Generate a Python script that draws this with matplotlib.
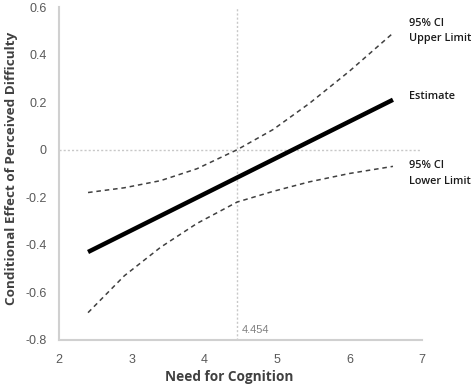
import matplotlib
matplotlib.use("Agg")
import matplotlib.pyplot as plt

# Data
est_x = [2.4, 6.6]
est_y = [-0.43, 0.21]
ci_x = [2.4, 2.9, 3.4, 3.9, 4.454, 4.95, 5.45, 6.0, 6.6]
upper_y = [-0.18, -0.16, -0.13, -0.08, 0.0, 0.085, 0.195, 0.33, 0.49]
lower_y = [-0.685, -0.53, -0.41, -0.31, -0.22, -0.175, -0.135, -0.10, -0.07]
jn_point = 4.454
x_ticks = [2, 3, 4, 5, 6, 7]
y_ticks = [-0.8, -0.6, -0.4, -0.2, 0, 0.2, 0.4, 0.6]
y_tick_labels = ["-0.8", "-0.6", "-0.4", "-0.2", "0", "0.2", "0.4", "0.6"]
right_labels = ["95% CI\nUpper Limit", "Estimate", "95% CI\nLower Limit"]
right_label_y = [0.50, 0.223, -0.10]

fig = plt.figure(figsize=(4.74, 3.88), dpi=100)
ax = fig.add_axes([59/474, 1-340/388, (422-59)/474, (340-7)/388])

ax.set_xlim(2, 7)
ax.set_ylim(-0.8, 0.6)

ax.axhline(0, color="#c8c8c8", lw=1, ls=(0, (1.5, 1.5)), zorder=1)
ax.axvline(jn_point, color="#c8c8c8", lw=1, ls=(0, (1.5, 1.5)), zorder=1)

ax.plot(ci_x, upper_y, color="#404040", lw=1.1, ls=(0, (3, 2.5)), zorder=2)
ax.plot(ci_x, lower_y, color="#404040", lw=1.1, ls=(0, (3, 2.5)), zorder=2)
ax.plot(est_x, est_y, color="black", lw=3.2, solid_capstyle="butt", zorder=3)

ax.text(jn_point + 0.06, -0.77, f"{jn_point:.3f}", color="#808080",
        fontsize=8, family="Liberation Sans", ha="left", va="baseline")

for lab, yy in zip(right_labels, right_label_y):
    ax.text(0.965, yy, lab, transform=ax.get_yaxis_transform(),
            fontsize=7.8, family="Open Sans", fontweight="semibold", color="#1a1a1a",
            ha="left", va="center", linespacing=1.55, clip_on=False)

for s in ["top", "right"]:
    ax.spines[s].set_visible(False)
for s in ["left", "bottom"]:
    ax.spines[s].set_color("#d0d0d0")
    ax.spines[s].set_linewidth(1.5)

ax.set_xticks(x_ticks)
ax.set_yticks(y_ticks)
ax.set_yticklabels(y_tick_labels)
ax.tick_params(axis="y", length=0, pad=9, labelsize=9, labelcolor="#595959")
ax.tick_params(axis="x", length=0, pad=10, labelsize=9, labelcolor="#595959")
for t in ax.get_xticklabels() + ax.get_yticklabels():
    t.set_family("Liberation Sans")

ax.set_xlabel("Need for Cognition", fontsize=9.8, family="Open Sans",
              fontweight="bold", color="#404040", va="center")
ax.xaxis.set_label_coords(0.468, -0.111)
ax.set_ylabel("Conditional Effect of Perceived Difficulty", fontsize=9.7,
              family="Open Sans", fontweight="bold", color="#404040", va="center")
ax.yaxis.set_label_coords(-0.1322, 0.5165)

fig.savefig("out.png", dpi=100)
